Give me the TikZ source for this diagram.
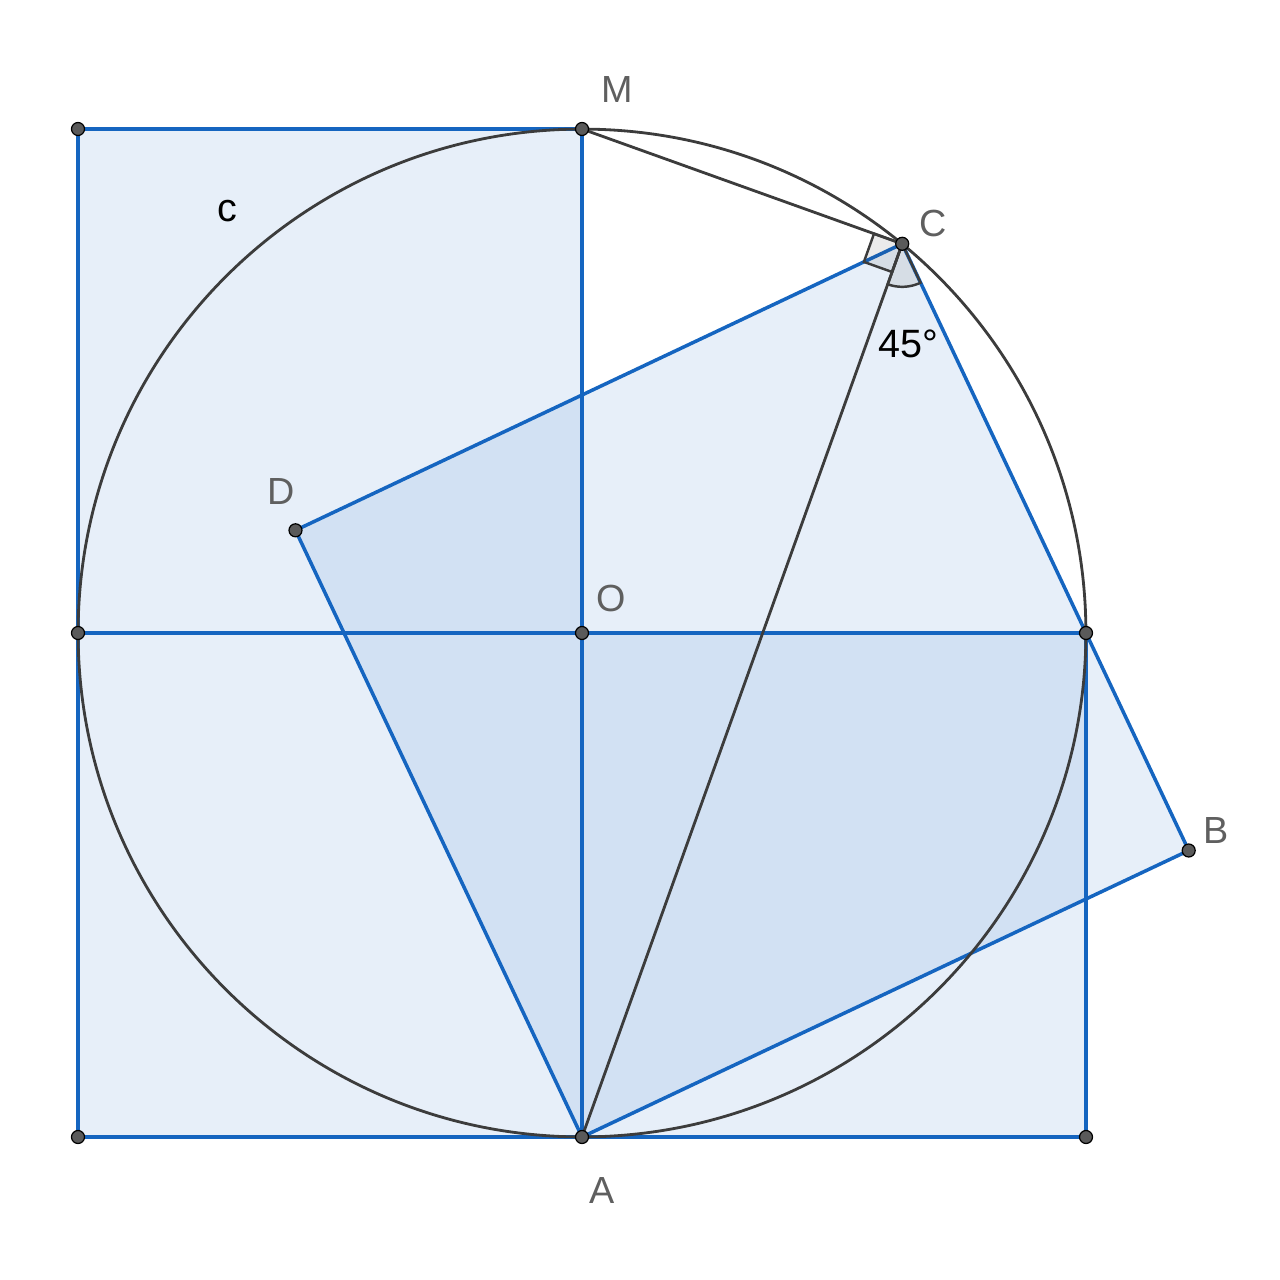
\documentclass[tikz,border=0pt]{standalone}
\usepackage{fontspec}
\setmainfont{Liberation Sans}
\definecolor{ggblue}{RGB}{21,101,192}
\definecolor{ggdark}{RGB}{60,60,60}
\definecolor{ggpoint}{RGB}{90,90,90}
\definecolor{gglabel}{RGB}{95,95,95}
\begin{document}
\begin{tikzpicture}[x=0.02cm,y=-0.02cm,
  bluefill/.style={fill=ggblue,fill opacity=0.1},
  blueline/.style={draw=ggblue,line width=2pt,line cap=round,line join=round},
  darkline/.style={draw=ggdark,line width=1.6pt,line cap=round},
  pt/.style={circle,fill=ggpoint,draw=black,line width=0.7pt,minimum size=0.26cm,inner sep=0pt},
  lbl/.style={text=gglabel,font=\fontsize{21.5}{25}\selectfont,inner sep=0pt},
  blbl/.style={text=black,font=\fontsize{22.5}{26}\selectfont,inner sep=0pt},
  anglefill/.style={fill=ggdark,fill opacity=0.1,draw=ggdark,line width=1.4pt}]
\useasboundingbox (0,0) rectangle (1280,1280);
% coordinates
\coordinate (TL) at (78,129);
\coordinate (M) at (582,129);
\coordinate (L) at (78,633);
\coordinate (O) at (582,633);
\coordinate (E) at (1086,633);
\coordinate (BL) at (78,1137);
\coordinate (A) at (582,1137);
\coordinate (BR) at (1086,1137);
\coordinate (C) at (902.2,243.8);
\coordinate (B) at (1188.7,850.5);
\coordinate (D) at (295.5,530.3);
% fills
\fill[bluefill] (TL) -- (M) -- (A) -- (BL) -- cycle;
\fill[bluefill] (O) -- (E) -- (BR) -- (A) -- cycle;
\fill[bluefill] (A) -- (B) -- (C) -- (D) -- cycle;
% blue lines
\draw[blueline] (TL) -- (M) -- (A);
\draw[blueline] (TL) -- (BL) -- (BR) -- (E);
\draw[blueline] (L) -- (E);
\draw[blueline] (A) -- (B) -- (C) -- (D) -- cycle;
% circle and dark lines
\draw[darkline] (O) circle[radius=10.08cm];
\draw[darkline] (M) -- (C) -- (A);
% angle marks
\draw[anglefill] (C) -- plot[domain=64.72:109.72,samples=40] ({902.2+43*cos(\x)},{243.8+43*sin(\x)}) -- cycle;
\draw[anglefill] (C) -- (874.0,233.7) -- (863.9,261.9) -- (892.1,272.0) -- cycle;
% points
\foreach \p in {TL,M,L,O,E,BL,A,BR,C,B,D} \node[pt] at (\p) {};
% labels
\node[lbl] (lM) at (617,90) {M};
\node[lbl] (lC) at (933,223) {C};
\node[lbl] (lD) at (281,492) {D};
\node[lbl] (lO) at (611,598) {O};
\node[lbl] (lA) at (602,1190) {A};
\node[lbl] (lB) at (1216,830) {B};
\node[blbl] (lc) at (227,211) {c};
\node[blbl] (l45) at (908,344) {45°};
\end{tikzpicture}
\end{document}
